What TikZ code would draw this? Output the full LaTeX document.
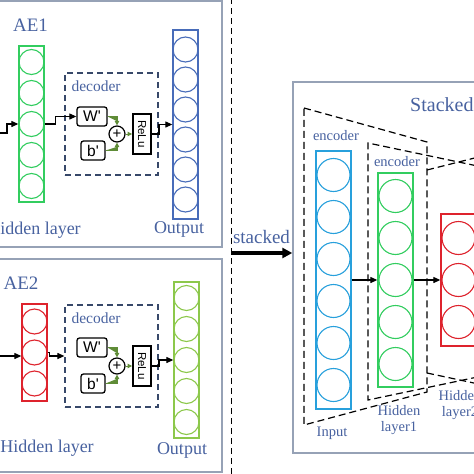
\documentclass[tikz,border=0pt]{standalone}
\usepackage{fontspec}
\usepackage{graphicx}
\setmainfont{Liberation Serif}
\setsansfont{Liberation Sans}
\usetikzlibrary{arrows.meta,positioning}

\definecolor{txtblue}{RGB}{72,98,160}
\definecolor{framegray}{RGB}{150,162,182}
\definecolor{decblue}{RGB}{55,72,105}
\definecolor{aegreen}{RGB}{50,205,95}
\definecolor{outblue}{RGB}{72,108,185}
\definecolor{hidred}{RGB}{222,35,45}
\definecolor{outlime}{RGB}{140,200,75}
\definecolor{incyan}{RGB}{40,160,220}
\definecolor{sumgreen}{RGB}{95,140,55}

\tikzset{
  aeframe/.style={draw=framegray, line width=1.4pt},
  layercol/.style={draw, line width=1.3pt, minimum width=25pt, inner sep=0pt},
  neuron/.style={circle, draw, line width=1.1pt, minimum size=25pt, inner sep=0pt},
  lbl/.style={text=txtblue, font=\fontsize{18}{20}\selectfont, inner sep=0pt},
  smalllbl/.style={text=txtblue, font=\fontsize{14.5}{16.5}\selectfont, inner sep=0pt, align=center},
  decbox/.style={draw=decblue, dash pattern=on 6pt off 4pt, line width=1.2pt, minimum width=93pt, minimum height=102pt},
  wbox/.style={draw, rounded corners=2.5pt, line width=1.3pt, font=\sffamily\fontsize{15.5}{15.5}\selectfont, inner sep=0pt, minimum height=19pt},
  relubox/.style={draw, line width=1.9pt, minimum width=18pt, minimum height=40pt, inner sep=0pt, font=\sffamily\fontsize{11.5}{11.5}\selectfont},
  plusnode/.style={circle, draw, line width=1.2pt, minimum size=16pt, inner sep=0pt, font=\sffamily\fontsize{15}{15}\selectfont},
  flow/.style={-{Triangle[length=7pt,width=6pt]}, line width=1.1pt},
  bigflow/.style={-{Triangle[length=10pt,width=10pt]}, line width=3.6pt},
  sumflow/.style={-{Triangle[length=4.5pt,width=4.5pt]}, draw=sumgreen, fill=sumgreen, line width=1pt},
  trap/.style={dash pattern=on 7pt off 4pt, line width=1.2pt},
}

\begin{document}
\begin{tikzpicture}[x=1pt,y=-1pt]
\useasboundingbox (0,0) rectangle (474,474);
\clip (0,0) rectangle (474,474);
\fill[white] (0,0) rectangle (474,474);

% AE1
\draw[aeframe] (-5,1) rectangle (222,247);
\node[lbl, font=\fontsize{19}{20}\selectfont] (ae1) at (30.5,25) {AE1};
\node[layercol, draw=aegreen, minimum height=156pt] (gcol1) at (31.5,124) {};
\foreach \i in {1,...,5}
  \node[neuron, draw=aegreen] (g1n\i) at (31.5,31+31*\i) {};
\coordinate (in1) at (-2,133);
\draw[flow] (in1) -- ++(9,0) |- (gcol1.west);

\node[decbox] (dec1) at (111.5,124) {};
\node[lbl, font=\fontsize{15.5}{16}\selectfont, below right=8pt and 7pt of dec1.north west] (dec1lbl) {decoder};
\node[wbox, minimum width=30pt] (w1) at (92,116.5) {W\textquotesingle};
\node[wbox, minimum width=24pt] (b1) at (93,150.5) {b\textquotesingle};
\node[plusnode] (plus1) at (117,134) {+};
\node[relubox] (relu1) at (142,134) {\rotatebox{-90}{ReLu}};
\draw[flow] (gcol1.east) -- ++(11,0) |- (w1.west);
\draw[sumflow] (w1.east) -| (plus1.north);
\draw[sumflow] (b1.east) -| (plus1.south);
\draw[sumflow] (plus1.east) -- (relu1.west);

\node[layercol, draw=outblue, minimum height=189pt] (out1) at (185.5,124.5) {};
\foreach \i in {1,...,6}
  \node[neuron, draw=outblue] (o1n\i) at (185.5,19.5+30*\i) {};
\draw[flow] (relu1.east) -- ++(7,0) |- (out1.west);

\node[lbl] (hid1lbl) at (34,230) {Hidden layer};
\node[lbl] (out1lbl) at (179,229) {Output};

% AE2
\draw[aeframe] (-5,259) rectangle (222,472);
\node[lbl, font=\fontsize{19}{20}\selectfont] (ae2) at (21,283) {AE2};
\node[layercol, draw=hidred, minimum height=97pt] (rcol2) at (34.5,352.5) {};
\foreach \i in {1,...,3}
  \node[neuron, draw=hidred] (r2n\i) at (34.5,290.5+31*\i) {};
\coordinate (in2) at (-2,356);
\draw[flow] (in2) -- (in2 -| rcol2.west);

\node[decbox] (dec2) at (111.5,356) {};
\node[lbl, font=\fontsize{15.5}{16}\selectfont, below right=8pt and 7pt of dec2.north west] (dec2lbl) {decoder};
\node[wbox, minimum width=30pt] (w2) at (92,347.5) {W\textquotesingle};
\node[wbox, minimum width=24pt] (b2) at (93,383.5) {b\textquotesingle};
\node[plusnode] (plus2) at (117,366) {+};
\node[relubox] (relu2) at (142,366) {\rotatebox{-90}{ReLu}};
\draw[flow] (rcol2.east) -- ++(1.5,0) |- (dec2.west);
\draw[sumflow] (w2.east) -| (plus2.north);
\draw[sumflow] (b2.east) -| (plus2.south);
\draw[sumflow] (plus2.east) -- (relu2.west);

\node[layercol, draw=outlime, minimum height=156pt] (out2) at (186.5,360) {};
\foreach \i in {1,...,5}
  \node[neuron, draw=outlime] (o2n\i) at (186.5,267+31*\i) {};
\draw[flow] (relu2.east) -- ++(7,0) |- (out2.west);

\node[lbl] (hid2lbl) at (47,448) {Hidden layer};
\node[lbl] (out2lbl) at (182,450) {Output};

% divider
\draw[dash pattern=on 6pt off 4pt, line width=1pt] (231,-2) -- (231,476);

% stacked AE
\node[draw=framegray, line width=1.4pt, minimum width=210pt, minimum height=371pt, inner sep=0pt] (sae) at (398,267.5) {};
\node[lbl, font=\fontsize{20}{22}\selectfont, anchor=west] (saelbl) at (410,105) {Stacked};
\coordinate (stk) at (231,253);
\draw[bigflow] (stk) -- (stk -| sae.west);
\node[lbl, font=\fontsize{19}{20}\selectfont] (stklbl) at (261.5,237) {stacked};

\draw[trap] (304,108) -- (427,142) -- (427,392) -- (304,425) -- cycle;
\draw[trap] (530,177) -- (368,143) -- (368,400) -- (530,366);
\draw[trap] (427,170) -- (530,144);
\draw[trap] (427,373) -- (530,395);

\node[layercol, draw=incyan, minimum width=35pt, minimum height=258pt] (incol) at (333.5,280) {};
\foreach \i in {1,...,6}
  \node[neuron, draw=incyan, minimum size=33pt] (inn\i) at (333.5,133+42*\i) {};
\node[layercol, draw=aegreen, minimum width=35pt, minimum height=214pt] (h1col) at (395.5,280) {};
\foreach \i in {1,...,5}
  \node[neuron, draw=aegreen, minimum size=33pt] (h1n\i) at (395.5,154+42*\i) {};
\node[layercol, draw=hidred, minimum width=35pt, minimum height=132pt] (h2col) at (458.5,280) {};
\foreach \i in {1,...,3}
  \node[neuron, draw=hidred, minimum size=33pt] (h2n\i) at (458.5,196+42*\i) {};
\draw[flow] (incol.east) -- (h1col.west);
\draw[flow] (h1col.east) -- (h2col.west);

\node[smalllbl] (enc1lbl) at (336,136) {encoder};
\node[smalllbl] (enc2lbl) at (397,162) {encoder};
\node[smalllbl] (inlbl) at (332,433) {Input};
\node[smalllbl] (h1lbl) at (399,420) {Hidden\\layer1};
\node[smalllbl] (h2lbl) at (460,405) {Hidden\\layer2};
\end{tikzpicture}
\end{document}
